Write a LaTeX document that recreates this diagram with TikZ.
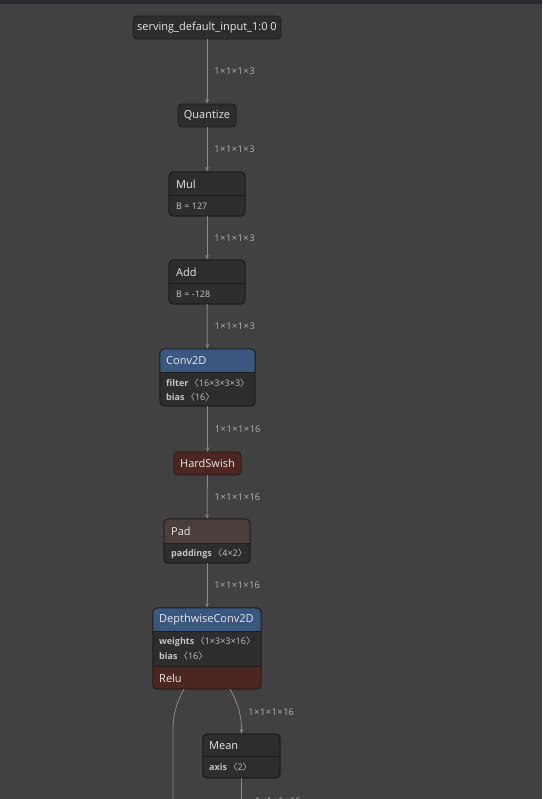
\documentclass[tikz,border=0pt]{standalone}
\usepackage{fontspec}
\setmainfont{Open Sans}
\newfontfamily\bracketfont{Noto Sans CJK SC}
\usetikzlibrary{calc, arrows.meta, positioning}

\definecolor{canvas}{HTML}{414141}
\definecolor{topbar}{HTML}{2A2A2E}
\definecolor{nodebg}{HTML}{2D2D2D}
\definecolor{nodeline}{HTML}{1C1C1C}
\definecolor{edgegray}{HTML}{8A8A8A}
\definecolor{labelgray}{HTML}{B2B2B2}
\definecolor{attrgray}{HTML}{C4C4C4}
\definecolor{titlewhite}{HTML}{E8E8E8}
\definecolor{layerblue}{HTML}{3A5780}
\definecolor{actred}{HTML}{4D2622}
\definecolor{shapebrown}{HTML}{4B3F3A}

\newcommand\titlefont{\fontsize{11}{13}\selectfont}
\newcommand\attrfont{\fontsize{9}{10}\selectfont}
\newcommand\lblfont{\fontsize{9.3}{11}\selectfont}
\newcommand\tm{\kern.5pt×\kern.5pt}
\newcommand\ang[1]{{\bracketfont 〈}#1{\bracketfont 〉}}
\newcommand\attr[2]{\textbf{#1}\,\ang{#2}}
% coloured band inside a rounded op box, #3/#4 = offsets from the top
\newcommand\opBand[4]{%
  \begin{scope}
    \clip[rounded corners=4pt] (#1.north west) rectangle (#1.south east);
    \fill[#2] ($(#1.north west)+(0,#3)$) rectangle ($(#1.north east)+(0,#4)$);
  \end{scope}
}

\begin{document}
\begin{tikzpicture}[x=1pt, y=-1pt]
    \tikzset{
      opbox/.style={
        draw=nodeline,
        fill=nodebg,
        rounded corners=4pt,
        line width=0.8pt,
        inner sep=0pt,
        outer sep=0pt,
        text=titlewhite,
        font=\titlefont,
      },
      optitle/.style={text=titlewhite, font=\titlefont, inner sep=0pt, anchor=west},
      opattr/.style={text=attrgray, font=\attrfont, inner sep=0pt, anchor=west},
      shapelbl/.style={
        text=labelgray,
        font=\lblfont,
        inner sep=0pt,
        anchor=west,
        xshift=7pt,
      },
      flow/.style={draw=edgegray, line width=0.8pt, -{Latex[length=4.5pt,width=4pt]}},
      divider/.style={draw=nodeline, line width=0.8pt},
    }

    \clip (0,0) rectangle (542,799);
    \fill[canvas] (0,0) rectangle (542,799);
    \fill[topbar] (0,0) rectangle (542,4);

    % single line ops
    \node[opbox, minimum width=148pt, minimum height=23pt] (serve) at (207,27.5)
        {serving\_default\_input\_1:0 0};
    \node[opbox, minimum width=58pt, minimum height=23pt] (quant) at (207,115.5) {Quantize};

    % ops with attributes
    \node[opbox, minimum width=76pt, minimum height=44pt, anchor=north] (mul) at (207,172) {};
    \node[opbox, minimum width=76pt, minimum height=44pt, anchor=north] (add) at (207,260) {};
    \node[opbox, minimum width=95pt, minimum height=57pt, anchor=north] (conv) at (207.5,349) {};
    \node[opbox, fill=actred, minimum width=67pt, minimum height=23pt] (hswish) at (207.5,463.5) {HardSwish};
    \node[opbox, minimum width=86pt, minimum height=44pt, anchor=north] (pad) at (207,519) {};
    \node[opbox, minimum width=108pt, minimum height=81pt, anchor=north] (dwc) at (207,608) {};
    \node[opbox, minimum width=77pt, minimum height=44pt, anchor=north] (mean) at (241.5,734) {};

    \opBand{conv}{layerblue}{0}{23}
    \opBand{pad}{shapebrown}{0}{24}
    \opBand{dwc}{layerblue}{0}{23}
    \opBand{dwc}{actred}{58}{81}

    \foreach \op/\hh in {mul/23, add/23, conv/23, pad/24, dwc/23, dwc/58, mean/22}
        \draw[divider] ($(\op.north west)+(0,\hh)$) -- ($(\op.north east)+(0,\hh)$);
    \foreach \op in {mul, add, conv, pad, dwc, mean}
        \draw[nodeline, line width=0.8pt, rounded corners=4pt] (\op.north west) rectangle (\op.south east);

    \node[optitle] at ($(mul.north west)+(7,12)$) {Mul};
    \node[opattr] at ($(mul.north west)+(7,34)$) {B = 127};
    \node[optitle] at ($(add.north west)+(7,12)$) {Add};
    \node[opattr] at ($(add.north west)+(7,34)$) {B = -128};
    \node[optitle] at ($(conv.north west)+(6,11.5)$) {Conv2D};
    \node[opattr] at ($(conv.north west)+(6,34)$) {\attr{filter}{16×3×3×3}};
    \node[opattr] at ($(conv.north west)+(6,48)$) {\attr{bias}{16}};
    \node[optitle] at ($(pad.north west)+(7,12)$) {Pad};
    \node[opattr] at ($(pad.north west)+(7,35)$) {\attr{paddings}{4×2}};
    \node[optitle] at ($(dwc.north west)+(6,12)$) {DepthwiseConv2D};
    \node[opattr] at ($(dwc.north west)+(6,34)$) {\attr{weights}{1×3×3×16}};
    \node[opattr] at ($(dwc.north west)+(6,48)$) {\attr{bias}{16}};
    \node[optitle] at ($(dwc.north west)+(6,70)$) {Relu};
    \node[optitle] at ($(mean.north west)+(6,12)$) {Mean};
    \node[opattr] at ($(mean.north west)+(6,33)$) {\attr{axis}{2}};

    \path[flow]
        (serve)  edge node[shapelbl] {1\tm1\tm1\tm3}  (quant)
        (quant)  edge node[shapelbl] {1\tm1\tm1\tm3}  (mul)
        (mul)    edge node[shapelbl] {1\tm1\tm1\tm3}  (add)
        (add)    edge node[shapelbl] {1\tm1\tm1\tm3}  (conv)
        (conv)   edge node[shapelbl] {1\tm1\tm1\tm16} (hswish)
        (hswish) edge node[shapelbl] {1\tm1\tm1\tm16} (pad)
        (pad)    edge node[shapelbl] {1\tm1\tm1\tm16} (dwc);

    % Relu outputs
    \coordinate (dwcL) at ($(dwc.south west)+(31,0)$);
    \coordinate (dwcR) at ($(dwc.south west)+(77,0)$);
    \coordinate (offL) at (173,815);
    \coordinate (offM) at (241.5,815);
    \draw[flow] (dwcL) .. controls (178,700) and (173,712) .. (173,730) -- (offL);
    \draw[flow] (dwcR) .. controls (236,700) and (241.5,712) .. (mean.north)
        node[shapelbl, pos=0.5, xshift=3pt, yshift=-4.5pt] {1\tm1\tm1\tm16};
    \draw[flow] (mean) -- (offM);
    \node[shapelbl, xshift=0pt] (meanlbl) at (248,801.5) {1\tm1\tm1\tm16};
\end{tikzpicture}
\end{document}
